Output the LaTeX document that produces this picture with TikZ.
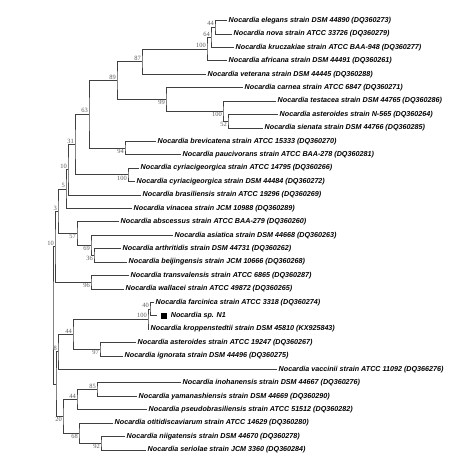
\documentclass[tikz,border=0pt]{standalone}
\usepackage{fontspec}
\newfontfamily\taxonfont{Liberation Sans}
\newfontfamily\bootfont{Liberation Serif}
\usetikzlibrary{positioning}

\tikzset{
  taxon/.style={anchor=west, inner sep=1.5bp, font=\taxonfont\bfseries\itshape\fontsize{7.2}{8}\selectfont},
  boot/.style={inner sep=1bp, text=black!65, font=\bootfont\fontsize{6.5}{7}\selectfont},
  branch/.style={draw=black!75, line width=0.7bp},
}

\begin{document}
\begin{tikzpicture}[x=1bp, y=-1bp]
\useasboundingbox (0,0) rectangle (474,474);

% taxa
\node[taxon] (elegans) at (227,20.5) {Nocardia elegans strain DSM 44890 (DQ360273)};
\node[taxon] (nova) at (232,33.9) {Nocardia nova strain ATCC 33726 (DQ360279)};
\node[taxon] (kruczakiae) at (234,47.3) {Nocardia kruczakiae strain ATCC BAA-948 (DQ360277)};
\node[taxon] (africana) at (227,60.8) {Nocardia africana strain DSM 44491 (DQ360261)};
\node[taxon] (veterana) at (206,74.2) {Nocardia veterana strain DSM 44445 (DQ360288)};
\node[taxon] (carnea) at (243,87.6) {Nocardia carnea strain ATCC 6847 (DQ360271)};
\node[taxon] (testacea) at (276,101.0) {Nocardia testacea strain DSM 44765 (DQ360286)};
\node[taxon] (asteroidesA) at (278,114.4) {Nocardia asteroides strain N-565 (DQ360264)};
\node[taxon] (sienata) at (263,127.9) {Nocardia sienata strain DSM 44766 (DQ360285)};
\node[taxon] (brevicatena) at (156,141.3) {Nocardia brevicatena strain ATCC 15333 (DQ360270)};
\node[taxon] (paucivorans) at (181,154.7) {Nocardia paucivorans strain ATCC BAA-278 (DQ360281)};
\node[taxon] (cyriacA) at (139,168.1) {Nocardia cyriacigeorgica strain ATCC 14795 (DQ360266)};
\node[taxon] (cyriacB) at (135,181.5) {Nocardia cyriacigeorgica strain DSM 44484 (DQ360272)};
\node[taxon] (brasiliensis) at (141,195.0) {Nocardia brasiliensis strain ATCC 19296 (DQ360269)};
\node[taxon] (vinacea) at (132,208.4) {Nocardia vinacea strain JCM 10988 (DQ360289)};
\node[taxon] (abscessus) at (119,221.8) {Nocardia abscessus strain ATCC BAA-279 (DQ360260)};
\node[taxon] (asiatica) at (173,235.2) {Nocardia asiatica strain DSM 44668 (DQ360263)};
\node[taxon] (arthritidis) at (121,248.6) {Nocardia arthritidis strain DSM 44731 (DQ360262)};
\node[taxon] (beijingensis) at (127,262.1) {Nocardia beijingensis strain JCM 10666 (DQ360268)};
\node[taxon] (transvalensis) at (129,275.5) {Nocardia transvalensis strain ATCC 6865 (DQ360287)};
\node[taxon] (wallacei) at (124,288.9) {Nocardia wallacei strain ATCC 49872 (DQ360265)};
\node[taxon] (farcinica) at (154,302.3) {Nocardia farcinica strain ATCC 3318 (DQ360274)};
\node[fill=black, minimum size=6bp, inner sep=0] (sq) at (164,315.7) {};
\node[taxon, right=2bp of sq] (spN1) {Nocardia sp. N1};
\node[taxon] (kroppenstedtii) at (149,329.1) {Nocardia kroppenstedtii strain DSM 45810 (KX925843)};
\node[taxon] (asteroidesB) at (136,342.6) {Nocardia asteroides strain ATCC 19247 (DQ360267)};
\node[taxon] (ignorata) at (123,356.0) {Nocardia ignorata strain DSM 44496 (DQ360275)};
\node[taxon] (vaccinii) at (277,369.4) {Nocardia vaccinii strain ATCC 11092 (DQ366276)};
\node[taxon] (inohanensis) at (181,382.8) {Nocardia inohanensis strain DSM 44667 (DQ360276)};
\node[taxon] (yamanashiensis) at (137,396.2) {Nocardia yamanashiensis strain DSM 44669 (DQ360290)};
\node[taxon] (pseudobras) at (147,409.7) {Nocardia pseudobrasiliensis strain ATCC 51512 (DQ360282)};
\node[taxon] (otitidis) at (113,423.1) {Nocardia otitidiscaviarum strain ATCC 14629 (DQ360280)};
\node[taxon] (niigatensis) at (125,436.5) {Nocardia niigatensis strain DSM 44670 (DQ360278)};
\node[taxon] (seriolae) at (146,449.9) {Nocardia seriolae strain JCM 3360 (DQ360284)};

% internal nodes
\coordinate (nA) at (215,27.2);
\coordinate (nB) at (211,37.3);
\coordinate (nC) at (207,49.0);
\coordinate (nD) at (142,61.6);
\coordinate (nG) at (228,121.1);
\coordinate (nF) at (223,111.1);
\coordinate (nE) at (166,99.4);
\coordinate (nH) at (117,80.5);
\coordinate (nI) at (125,148.0);
\coordinate (nJ) at (89,114.2);
\coordinate (nK) at (128,174.8);
\coordinate (nL) at (75,144.5);
\coordinate (nM) at (68,169.8);
\coordinate (nN) at (66,189.1);
\coordinate (nS) at (94,255.3);
\coordinate (nR) at (91,245.3);
\coordinate (nQ) at (77,233.5);
\coordinate (nO) at (58,211.3);
\coordinate (nT) at (91,282.2);
\coordinate (nP) at (55,246.8);
\coordinate (nAC) at (150,309.0);
\coordinate (nAB) at (148,319.0);
\coordinate (nAD) at (100,349.3);
\coordinate (nAE) at (73,334.2);
\coordinate (nAF) at (58,351.8);
\coordinate (nX) at (97,389.5);
\coordinate (nV) at (77,399.6);
\coordinate (nY) at (101,443.2);
\coordinate (nW) at (79,433.2);
\coordinate (nZ) at (63,416.4);
\coordinate (nAG) at (56,384.1);
\coordinate (nRoot) at (53,315.5);

% branches
\draw[branch] (elegans) -| (nA) |- (nova);
\draw[branch] (nA) -| (nB) |- (kruczakiae);
\draw[branch] (nB) -| (nC) |- (africana);
\draw[branch] (nC) -| (nD) |- (veterana);
\draw[branch] (asteroidesA) -| (nG) |- (sienata);
\draw[branch] (testacea) -| (nF) |- (nG);
\draw[branch] (carnea) -| (nE) |- (nF);
\draw[branch] (nD) -| (nH) |- (nE);
\draw[branch] (brevicatena) -| (nI) |- (paucivorans);
\draw[branch] (nH) -| (nJ) |- (nI);
\draw[branch] (cyriacA) -| (nK) |- (cyriacB);
\draw[branch] (nJ) -| (nL) |- (nK);
\draw[branch] (nL) -| (nM) |- (brasiliensis);
\draw[branch] (nM) -| (nN) |- (vinacea);
\draw[branch] (arthritidis) -| (nS) |- (beijingensis);
\draw[branch] (asiatica) -| (nR) |- (nS);
\draw[branch] (abscessus) -| (nQ) |- (nR);
\draw[branch] (nN) -| (nO) |- (nQ);
\draw[branch] (transvalensis) -| (nT) |- (wallacei);
\draw[branch] (nO) -| (nP) |- (nT);
\draw[branch, shorten >=4bp] (farcinica) -| (nAC) |- (sq);
\draw[branch] (nAC) -| (nAB) |- (kroppenstedtii);
\draw[branch] (asteroidesB) -| (nAD) |- (ignorata);
\draw[branch] (nAB) -| (nAE) |- (nAD);
\draw[branch] (nAE) -| (nAF) |- (vaccinii);
\draw[branch] (inohanensis) -| (nX) |- (yamanashiensis);
\draw[branch] (nX) -| (nV) |- (pseudobras);
\draw[branch] (niigatensis) -| (nY) |- (seriolae);
\draw[branch] (otitidis) -| (nW) |- (nY);
\draw[branch] (nV) -| (nZ) |- (nW);
\draw[branch] (nAF) -| (nAG) |- (nZ);
\draw[branch] (nP) -| (nRoot) |- (nAG);

% bootstrap values
\node[boot, above left] (bA) at (nA) {44};
\node[boot, above left] (bB) at (nB) {64};
\node[boot, above left] (bC) at (nC) {100};
\node[boot, above left] (bD) at (nD) {87};
\node[boot, above left] (bH) at (nH) {89};
\node[boot, below left] (bE) at (nE) {99};
\node[boot, below left] (bF) at (nF) {100};
\node[boot, below left] (bG) at (nG) {52};
\node[boot, below left] (bI) at (nI) {94};
\node[boot, above left] (bJ) at (nJ) {63};
\node[boot, below left] (bK) at (nK) {100};
\node[boot, above left] (bL) at (nL) {31};
\node[boot, above left] (bM) at (nM) {10};
\node[boot, above left] (bN) at (nN) {5};
\node[boot, above left] (bO) at (nO) {3};
\node[boot, above left] (bP) at (nP) {10};
\node[boot, below left] (bQ) at (nQ) {57};
\node[boot, below left] (bR) at (nR) {69};
\node[boot, below left] (bS) at (nS) {36};
\node[boot, below left] (bT) at (nT) {96};
\node[boot, above left] (bAC) at (nAC) {40};
\node[boot, above left] (bAB) at (nAB) {100};
\node[boot, below left] (bAD) at (nAD) {97};
\node[boot, above left] (bAE) at (nAE) {44};
\node[boot, above left] (bAF) at (nAF) {8};
\node[boot, above left] (bX) at (nX) {85};
\node[boot, above left] (bV) at (nV) {44};
\node[boot, below left] (bY) at (nY) {92};
\node[boot, below left] (bW) at (nW) {68};
\node[boot, below left] (bZ) at (nZ) {20};
\end{tikzpicture}
\end{document}
